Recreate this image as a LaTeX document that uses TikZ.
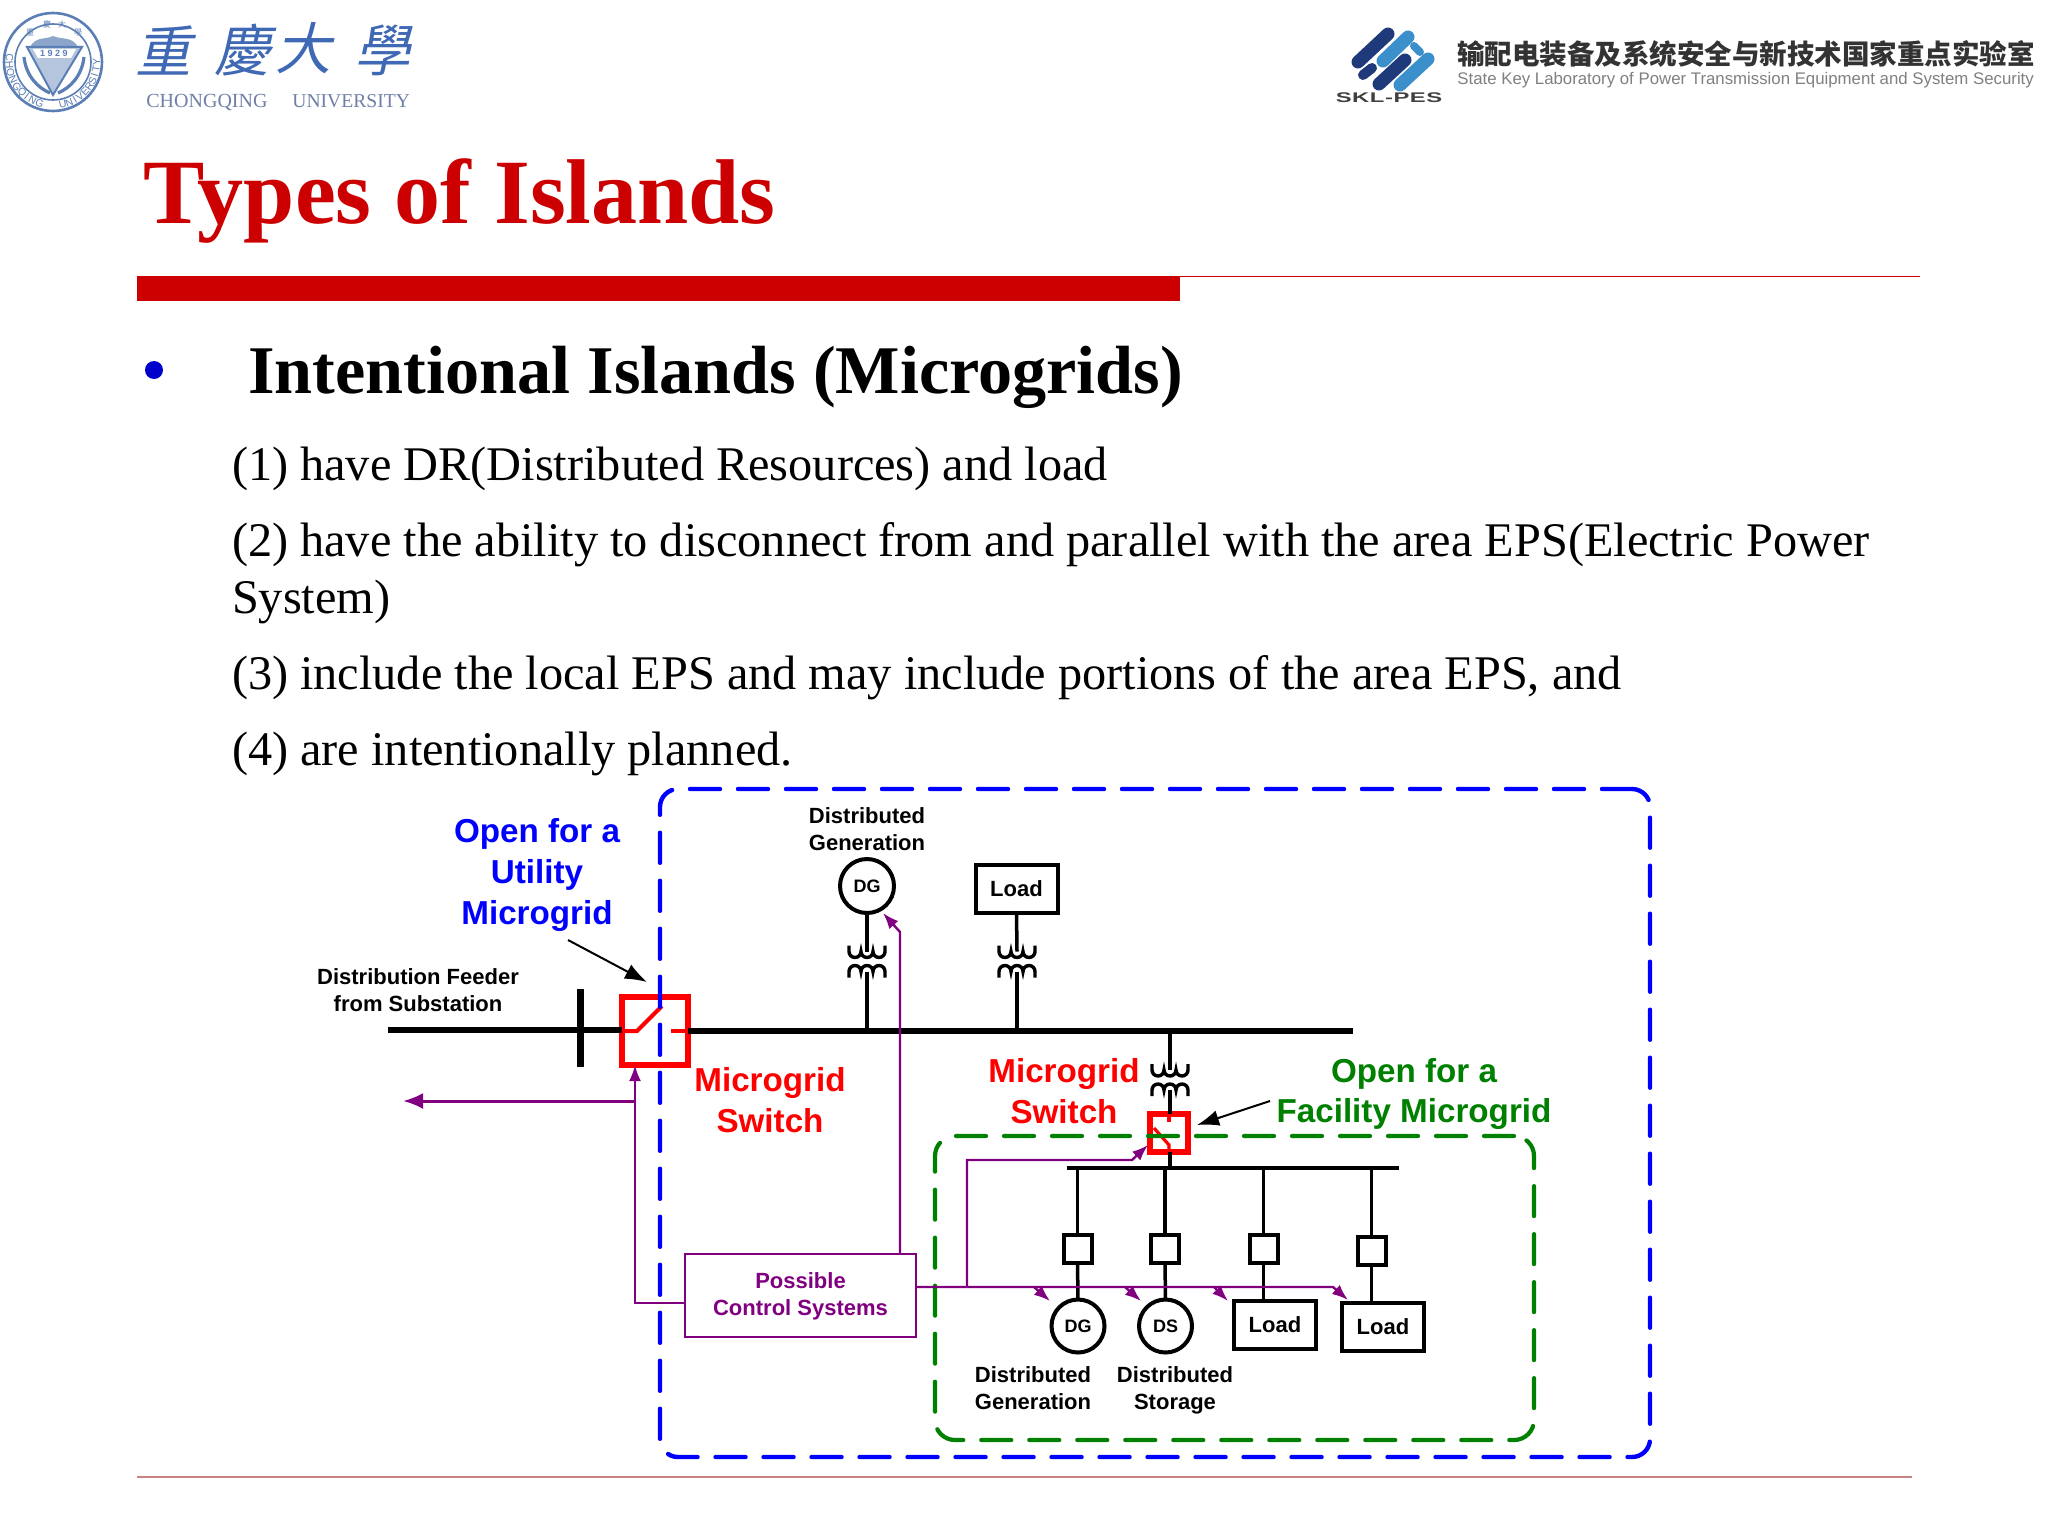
\documentclass[tikz,border=0pt]{standalone}
\usepackage{fontspec}
\usetikzlibrary{arrows.meta,calc}
\setmainfont{Liberation Serif}
\setsansfont{Liberation Sans}
\newfontfamily\cjkslant[FakeSlant=0.22]{Noto Sans CJK TC}
\newfontfamily\cjktc{Noto Sans CJK TC}
\newfontfamily\cjksc{Noto Sans CJK SC}
\newfontfamily\sklfont[FakeStretch=1.7,LetterSpace=4]{Liberation Sans}
\definecolor{cqred}{HTML}{CC0000}
\definecolor{ctl}{HTML}{800080}
\definecolor{swred}{HTML}{FF0000}
\definecolor{mgblue}{HTML}{0000FF}
\definecolor{mggreen}{HTML}{008000}
\definecolor{seal}{HTML}{5B7FB5}
\definecolor{cqblue}{HTML}{3F68B5}
\definecolor{cqtext}{HTML}{6F7FA8}
\definecolor{skldark}{HTML}{1F3A7A}
\definecolor{skllight}{HTML}{3B8FCB}
\tikzset{
  x=0.5pt,y=-0.5pt,
  lbl/.style={inner sep=0pt,outer sep=0pt,align=center,font=\sffamily\bfseries\fontsize{16.6}{20.3}\selectfont},
  small/.style={inner sep=0pt,outer sep=0pt,align=center,font=\sffamily\bfseries\fontsize{11}{13.6}\selectfont},
  body/.style={inner sep=0pt,outer sep=0pt,anchor=base west,font=\fontsize{24.15}{28}\selectfont},
  wire/.style={draw=black,line width=1.75pt},
  bus/.style={draw=black,line width=3.4pt},
  boxel/.style={draw=black,line width=2pt,inner sep=0pt,outer sep=0pt,fill=white},
  loadbox/.style={boxel,minimum width=41pt,minimum height=24pt,font=\sffamily\bfseries\fontsize{11}{13}\selectfont},
  brk/.style={draw=black,line width=2pt,inner sep=0pt,outer sep=0pt,minimum size=14pt},
  gen/.style={boxel,circle,minimum size=26.5pt,font=\sffamily\bfseries\fontsize{9}{11}\selectfont},
  swbox/.style={draw=swred,line width=3pt,inner sep=0pt,outer sep=0pt},
  swblade/.style={draw=swred,line width=1.6pt},
  ctlline/.style={draw=ctl,line width=1.2pt},
  ctlarrow/.style={ctlline,-{Latex[length=8pt,width=6pt]}},
  callout/.style={draw=black,line width=1pt,-{Latex[length=11pt,width=8pt]}},
  blueedge/.style={draw=mgblue,line width=2.2pt,line cap=round,dash pattern=on 15pt off 9pt,rounded corners=9pt,inner sep=0pt,outer sep=0pt},
  greenedge/.style={draw=mggreen,line width=2.1pt,line cap=round,dash pattern=on 15pt off 9pt,rounded corners=10pt,inner sep=0pt,outer sep=0pt},
  stripeD/.style={draw=skldark,line width=6.5pt,line cap=round},
  stripeL/.style={draw=skllight,line width=6.5pt,line cap=round},
  ringletter/.style={inner sep=0pt,text=seal,font=\sffamily\fontsize{5.2}{6}\selectfont},
  pics/xfmr/.style={code={
    \draw[line width=1.7pt] (-18,-16) -- (-18,-10) arc[start angle=180,end angle=360,radius=3pt]
       arc[start angle=180,end angle=360,radius=3pt] arc[start angle=180,end angle=360,radius=3pt] -- (18,-16);
    \draw[line width=1.7pt] (-18,16) -- (-18,10) arc[start angle=180,end angle=0,radius=3pt]
       arc[start angle=180,end angle=0,radius=3pt] arc[start angle=180,end angle=0,radius=3pt] -- (18,16);
    \coordinate (-t) at (0,-10);
    \coordinate (-b) at (0,10);
  }}
}
\begin{document}
\begin{tikzpicture}
\useasboundingbox (0,0) rectangle (2048,1536);
\fill[white] (0,0) rectangle (2048,1536);

% --- seal
\coordinate (sealc) at (53,62);
\draw[seal,line width=1.3pt] (sealc) circle[radius=24.5pt];
\draw[seal,line width=0.8pt] (sealc) circle[radius=19pt];
\fill[seal!70] (30,47) .. controls (36,36) and (45,40) .. (53,36) .. controls (62,40) and (72,36) .. (78,47) -- cycle;
\draw[seal,line width=1pt,fill=seal!45] (27,47) -- (82,47) -- (53,95) -- cycle;
\fill[white] (33,49) -- (76,49) -- (71,58) -- (38,58) -- cycle;
\node[inner sep=0pt,text=seal,font=\sffamily\bfseries\fontsize{4.5}{5}\selectfont] (sealyear) at (54,53.5) {1 9 2 9};
\draw[seal,line width=1.6pt] (24,57) .. controls (26,76) and (38,88) .. (50,93);
\draw[seal,line width=1.6pt] (84,57) .. controls (82,76) and (70,88) .. (58,93);
\foreach \ch/\ang [count=\n] in {C/174,H/184,O/194,N/204,G/214,Q/224,I/233,N/242,G/252,U/283,N/292,I/300,V/308,E/317,R/326,S/335,I/343,T/351,Y/360}{
  \pgfmathsetmacro{\rot}{\ang-270}
  \node[ringletter,rotate=\rot] (ring\n) at ($(sealc)+(\ang:21.8pt)$) {\ch};
}
\node[inner sep=0pt,text=seal,font=\cjktc\fontsize{4}{5}\selectfont] (sa) at (30,32) {重};
\node[inner sep=0pt,text=seal,font=\cjktc\fontsize{4}{5}\selectfont] (sb) at (47,24) {慶};
\node[inner sep=0pt,text=seal,font=\cjktc\fontsize{4}{5}\selectfont] (sc) at (62,24) {大};
\node[inner sep=0pt,text=seal,font=\cjktc\fontsize{4}{5}\selectfont] (sd) at (78,32) {學};

% --- university name
\node[inner sep=0pt,text=cqblue,font=\cjkslant\fontsize{28}{32}\selectfont] (zh1) at (163,50) {重};
\node[inner sep=0pt,text=cqblue,font=\cjkslant\fontsize{28}{32}\selectfont] (zh2) at (242,50) {慶};
\node[inner sep=0pt,text=cqblue,font=\cjkslant\fontsize{28}{32}\selectfont] (zh3) at (303,48) {大};
\node[inner sep=0pt,text=cqblue,font=\cjkslant\fontsize{28}{32}\selectfont] (zh4) at (382,50) {學};
\node[inner sep=0pt,anchor=base west,text=cqtext,font=\fontsize{10}{12}\selectfont] (cq1) at (146,107) {CHONGQING};
\node[inner sep=0pt,anchor=base west,text=cqtext,font=\fontsize{9.8}{12}\selectfont] (cq2) at (292,107) {UNIVERSITY};

% --- SKL logo
\draw[stripeD] (1358,62) -- (1388,34);
\draw[stripeL] (1383,61) -- (1408,37);
\draw[stripeL,line width=4pt] (1414,46) -- (1420,52);
\draw[stripeD,line width=5pt] (1363,75) -- (1372,68);
\draw[stripeD] (1379,84) -- (1405,60);
\draw[stripeL] (1400,85) -- (1428,59);
\node[inner sep=0pt,anchor=base,text=black!75,font=\sklfont\bfseries\fontsize{7}{8}\selectfont] (skl) at (1389,103) {SKL-PES};
\node[inner sep=0pt,anchor=west,text=black!80,font=\cjksc\bfseries\fontsize{13.75}{15}\selectfont] (sklzh) at (1457,54) {输配电装备及系统安全与新技术国家重点实验室};
\node[inner sep=0pt,anchor=base west,text=black!50,font=\sffamily\fontsize{8.4}{9}\selectfont] (sklen) at (1457,84) {State Key Laboratory of Power Transmission Equipment and System Security};

% --- header
\node[inner sep=0pt,anchor=base west,text=cqred,font=\bfseries\fontsize{46}{50}\selectfont] (title) at (143,223) {Types of Islands};
\fill[cqred] (137,276) rectangle (1180,301);
\draw[cqred,line width=0.8pt] (137,276.5) -- (1920,276.5);
\node[circle,fill=blue!80!black,inner sep=0pt,minimum size=9pt] (bul) at (154,370) {};
\node[inner sep=0pt,anchor=base west,font=\bfseries\fontsize{34.1}{38}\selectfont] (head) at (248,393) {Intentional Islands (Microgrids)};
\node[body] (l1) at (232,480) {(1) have DR(Distributed Resources) and load};
\node[body] (l2) at (232,556) {(2) have the ability to disconnect from and parallel with the area EPS(Electric Power};
\node[body] (l2b) at (232,613) {System)};
\node[body] (l3) at (232,689) {(3) include the local EPS and may include portions of the area EPS, and};
\node[body] (l4) at (232,765) {(4) are intentionally planned.};
\draw[draw=red!40!gray!70,line width=0.6pt] (137,1477) -- (1912,1477);

% --- elements
\node[swbox,minimum width=33pt,minimum height=34pt] (swA) at (654.5,1031) {};
\node[swbox,minimum size=19pt] (swB) at (1168.5,1132.5) {};
\node[gen,minimum size=27pt] (dgT) at (867,886) {DG};
\node[loadbox] (loadT) at (1016.5,889) {Load};
\pic (xa) at (867,961.5) {xfmr};
\pic (xb) at (1017,961.5) {xfmr};
\pic (xc) at (1170,1080) {xfmr};

\node[brk] (b1) at (1077.5,1249) {};
\node[brk] (b2) at (1165,1249) {};
\node[brk] (b3) at (1263.5,1249) {};
\node[brk] (b4) at (1371.5,1251) {};
\node[gen] (dgB) at (1078,1326) {DG};
\node[gen] (dsB) at (1165.5,1326) {DS};
\node[loadbox] (lA) at (1275,1325) {Load};
\node[loadbox] (lB) at (1383,1326.5) {Load};
\node[draw=ctl,line width=1.2pt,inner sep=0pt,outer sep=0pt,minimum width=115.5pt,minimum height=41.5pt,text=ctl,font=\sffamily\bfseries\fontsize{11}{13.6}\selectfont,align=center] (ctrl) at (800.5,1295.5) {\rule{0pt}{9pt}Possible\\Control Systems};

% --- bus coordinates
\coordinate (feedL) at (388,1030);
\coordinate (busEnd) at (1353,1031);
\coordinate (barT) at (580,989);
\coordinate (barB) at (580,1067);
\coordinate (bus2L) at (1067,1168);
\coordinate (bus2R) at (1399,1168);

\draw[bus] (feedL) -- (feedL -| swA.west);
\draw[bus] (swA.east) -- (busEnd);
\draw[line width=3.5pt] (barT) -- (barB);
\draw[wire] (dgT.south) -- (xa-t);
\draw[wire] (xa-b) -- (xa-b |- busEnd);
\draw[wire] (loadT.south) -- (xb-t);
\draw[wire] (xb-b) -- (xb-b |- busEnd);
\draw[wire] (xc-t |- busEnd) -- (xc-t);
\draw[wire] (xc-b) -- (xc-b |- swB.north);
\draw[wire] (xc-b |- swB.south) -- (xc-b |- bus2L);
\draw[line width=2.3pt] (bus2L) -- (bus2R);
\draw[wire] (b1.north |- bus2L) -- (b1.north);
\draw[wire] (b2.north |- bus2L) -- (b2.north);
\draw[wire] (b3.north |- bus2L) -- (b3.north);
\draw[wire] (b4.north |- bus2L) -- (b4.north);
\draw[wire] (b1.south) -- (dgB.north);
\draw[wire] (b2.south) -- (dsB.north);
\draw[wire] (b3.south) -- (b3.south |- lA.north);
\draw[wire] (b4.south) -- (b4.south |- lB.north);

% --- switch blades
\coordinate (aL) at (637,1031);
\coordinate (aTip) at (662,1006);
\coordinate (aR) at (671,1031);
\draw[swblade,line width=2pt] (swA.west |- aL) -- (aL) -- (aTip);
\draw[swblade,line width=2pt] (aR) -- (swA.east |- aR);
\coordinate (bStub) at (1169,1122);
\coordinate (bTip) at (1154,1128);
\coordinate (bHinge) at (1169,1145);
\draw[swblade] (swB.north -| bStub) -- (bStub);
\draw[swblade] (bTip) -- (bHinge) -- (bHinge |- swB.south);

% --- dashed boundaries
\node[blueedge,minimum width=495pt,minimum height=334pt] (blueB) at (1155,1123) {};
\node[greenedge,minimum width=299.5pt,minimum height=152pt] (greenB) at (1234.5,1288) {};

% --- control connections
\coordinate (cL) at (684,1303);
\coordinate (cLc) at (635,1303);
\coordinate (cBranch) at (635,1101);
\coordinate (cArrowL) at (403,1101);
\draw[ctlarrow] (cL) -- (cLc) -- (swA.south -| cLc);
\draw[ctlarrow,line width=1.5pt,-{Latex[length=10pt,width=8pt]}] (cBranch) -- (cArrowL);
\coordinate (cUp) at (900,1253);
\coordinate (cUpK) at (900,932);
\coordinate (cDGhit) at (883,913);
\draw[ctlarrow] (cUp) -- (cUpK) -- (cDGhit);
\coordinate (cR) at (917,1287);
\coordinate (cRK) at (1333,1287);
\coordinate (cLoadB) at (1348,1300);
\draw[ctlarrow] (cR) -- (cRK) -- (cLoadB);
\coordinate (jUp) at (967,1287);
\coordinate (jUpK) at (967,1160);
\coordinate (jUpR) at (1132,1160);
\coordinate (swBhit) at (1148,1145);
\draw[ctlarrow] (jUp) -- (jUpK) -- (jUpR) -- (swBhit);
\coordinate (j1) at (1034,1287);
\coordinate (j1e) at (1050,1301);
\coordinate (j2) at (1125,1287);
\coordinate (j2e) at (1141,1301);
\coordinate (j3) at (1214,1287);
\coordinate (j3e) at (1228,1301);
\draw[ctlarrow] (j1) -- (j1e);
\draw[ctlarrow] (j2) -- (j2e);
\draw[ctlarrow] (j3) -- (j3e);

% --- callouts
\coordinate (c1s) at (568,940);
\coordinate (c1e) at (647,982);
\draw[callout] (c1s) -- (c1e);
\coordinate (c2s) at (1270,1101);
\coordinate (c2e) at (1197,1125);
\draw[callout] (c2s) -- (c2e);

% --- labels
\node[lbl,text=mgblue] (t1) at (537,875) {Open for a\\Utility\\Microgrid};
\node[small] (t2) at (418,990) {Distribution Feeder\\from Substation};
\node[small] (t3) at (867,829) {Distributed\\Generation};
\node[lbl,text=swred] (t4) at (770,1100) {Microgrid\\Switch};
\node[lbl,text=swred] (t5) at (1064,1091) {Microgrid\\Switch};
\node[lbl,text=mggreen] (t6) at (1414,1094) {Open for a\\Facility Microgrid};
\node[small] (t7) at (1033,1388) {Distributed\\Generation};
\node[small] (t8) at (1175,1390) {Distributed\\Storage};
\end{tikzpicture}
\end{document}
